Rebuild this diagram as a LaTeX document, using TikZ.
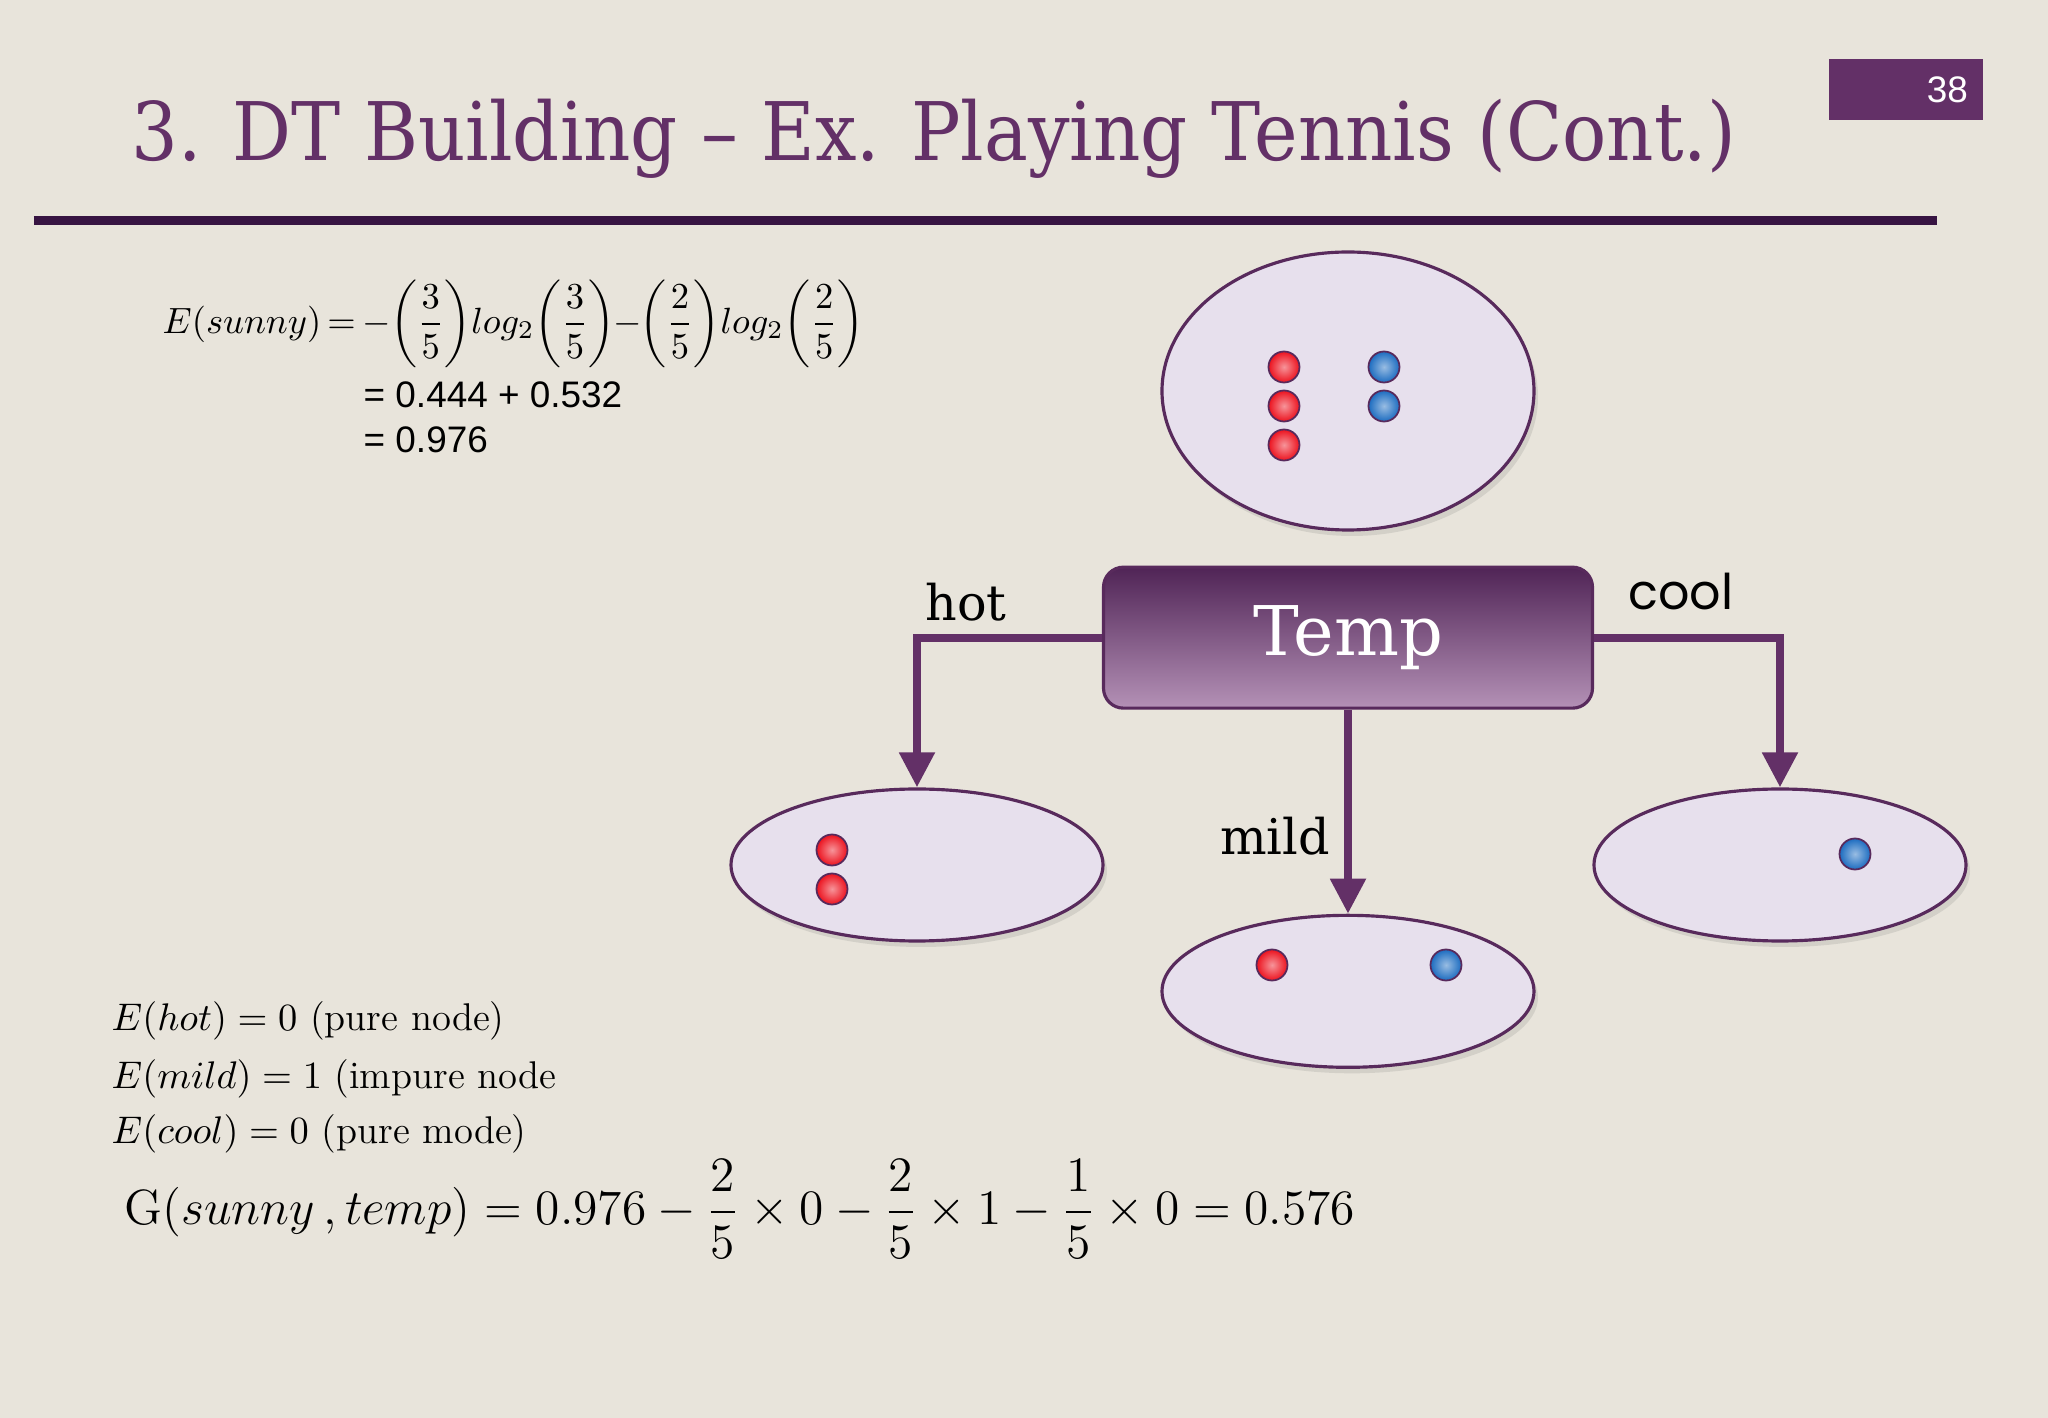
\documentclass[tikz,border=0pt]{standalone}
\usepackage{fontspec}
\usepackage{amsmath}
\usetikzlibrary{shapes,arrows.meta,positioning,calc,shadows}
\setsansfont{Liberation Sans}
\newfontfamily\slabfont[Ligatures=TeX]{DejaVu Serif}
\newfontfamily\roundfont{Poppins}
\definecolor{paper}{RGB}{232,228,219}
\definecolor{plum}{RGB}{99,48,103}
\definecolor{darkplum}{RGB}{55,20,66}
\definecolor{edgeplum}{RGB}{88,42,92}
\definecolor{lavender}{RGB}{231,224,237}
\definecolor{tempTop}{RGB}{80,36,86}
\definecolor{tempBot}{RGB}{180,145,182}
\definecolor{ballred}{RGB}{236,18,30}
\definecolor{ballblue}{RGB}{28,108,192}

\begin{document}
\begin{tikzpicture}[node distance=1cm, auto]

\tikzstyle{setbox} = [ellipse, draw=edgeplum, line width=0.9pt, fill=lavender, minimum width=3.72cm, minimum height=1.52cm, drop shadow={opacity=0.2, shadow xshift=0.04cm, shadow yshift=-0.06cm}];
\tikzstyle{yesball} = [circle, draw=edgeplum, line width=0.5pt, inner sep=0pt, minimum size=0.31cm, inner color=ballred!45!white, outer color=ballred];
\tikzstyle{noball} = [circle, draw=edgeplum, line width=0.5pt, inner sep=0pt, minimum size=0.31cm, inner color=ballblue!45!white, outer color=ballblue];
\tikzstyle{branch} = [draw=plum, line width=2.3pt, -{Triangle[width=0.34cm,length=0.35cm]}];
\tikzstyle{branchlabel} = [font=\slabfont\fontsize{14}{16}\selectfont, text=black];

% Hintergrund
\fill[paper] (0,0) rectangle (20.48,-14.18);
\useasboundingbox (0,0) rectangle (20.48,-14.18);

% Titel
\node (title) [anchor=base west, text=plum, inner sep=0pt, font=\slabfont\fontsize{23}{26}\selectfont] at (1.31,-1.61) {\scalebox{0.91}[1]{3. DT Building -- Ex. Playing Tennis (Cont.)}};
\node (pagebox) [rectangle, fill=plum, minimum height=0.61cm, inner xsep=0.15cm, text width=1.24cm, align=right, text=white, font=\sffamily\fontsize{10.5}{12}\selectfont] at (19.06,-0.895) {38};
\draw[darkplum, line width=0.09cm] (0.34,-2.21) -- (19.37,-2.21);

% Entropie sunny
\node (esunny) [anchor=west, inner sep=0pt, font=\fontsize{10}{12}\selectfont] at (1.62,-3.24) {\scalebox{1.04}{\thickmuskip=3mu \medmuskip=2mu $E(sunny) = -\!\left(\dfrac{3}{5}\right)\!log_2\!\left(\dfrac{3}{5}\right)\! - \!\left(\dfrac{2}{5}\right)\!log_2\!\left(\dfrac{2}{5}\right)$}};
\node (esum) [anchor=north west, inner sep=0pt, align=left, font=\sffamily\fontsize{10.5}{12.8}\selectfont] at (3.63,-3.81) {= 0.444 + 0.532\\= 0.976};

% Baum
\node (root) [setbox, minimum height=2.78cm] at (13.48,-3.91) {};
\node (temp) [rectangle, rounded corners=0.2cm, minimum width=4.89cm, minimum height=1.41cm, top color=tempTop, bottom color=tempBot, draw=edgeplum, line width=0.9pt, text=white, font=\slabfont\fontsize{19.5}{24}\selectfont, below=0.34cm of root] {Temp};
\node (hot) [setbox] at (9.17,-8.65) {};
\node (mild) [setbox, below=2.04cm of temp] {};
\node (cool) [setbox] at (17.80,-8.65) {};

% Beispiele
\node (rootyes1) [yesball] at (12.84,-3.67) {};
\node (rootyes2) [yesball] at (12.84,-4.06) {};
\node (rootyes3) [yesball] at (12.84,-4.45) {};
\node (rootno1) [noball] at (13.84,-3.67) {};
\node (rootno2) [noball] at (13.84,-4.06) {};
\node (hotyes1) [yesball] at (8.32,-8.50) {};
\node (hotyes2) [yesball] at (8.32,-8.89) {};
\node (mildyes) [yesball] at (12.72,-9.65) {};
\node (mildno) [noball] at (14.46,-9.65) {};
\node (coolno) [noball] at (18.55,-8.54) {};

% Kanten
\draw[branch] (temp.west) -| (hot.north);
\draw[branch] (temp.south) -- (mild.north);
\draw[branch] (temp.east) -| (cool.north);
\node (hotlabel) [branchlabel] at (9.66,-6.02) {hot};
\node (mildlabel) [branchlabel] at (12.75,-8.36) {mild};
\node (coollabel) [font=\roundfont\fontsize{14}{16}\selectfont] at (16.81,-5.92) {cool};

% Entropien und Gewinn
\node (ehot) [anchor=west, inner sep=0pt, font=\fontsize{11}{13}\selectfont] at (1.11,-10.21) {$E(hot) = 0$ (pure node)};
\node (emild) [anchor=west, inner sep=0pt, font=\fontsize{11}{13}\selectfont] at (1.11,-10.79) {$E(mild) = 1$ (impure node};
\node (ecool) [anchor=west, inner sep=0pt, font=\fontsize{11}{13}\selectfont] at (1.11,-11.34) {$E(cool) = 0$ (pure mode)};
\node (gain) [anchor=west, inner sep=0pt, font=\fontsize{14.4}{18}\selectfont] at (1.24,-12.09) {\scalebox{0.978}{$\mathrm{G}(sunny\,, temp) = 0.976 - \dfrac{2}{5} \times 0 - \dfrac{2}{5} \times 1 - \dfrac{1}{5} \times 0 = 0.576$}};

\end{tikzpicture}
\end{document}
